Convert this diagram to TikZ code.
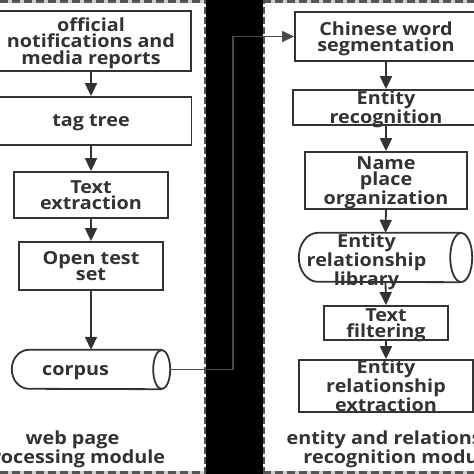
\documentclass[tikz,border=0pt]{standalone}
\usepackage{fontspec}
\setmainfont{Open Sans}[FakeStretch=1.1]
\usetikzlibrary{arrows.meta}
\definecolor{ink}{HTML}{333333}
\definecolor{dashc}{HTML}{555555}
\definecolor{gapc}{HTML}{CFCFCF}
\definecolor{linkc}{HTML}{4A4A4A}
\tikzset{
  lblfont/.style={font=\fontsize{18}{16.5}\selectfont\bfseries, text=ink},
  stepbox/.style={draw=ink, line width=1.8pt, fill=white, inner sep=0pt, align=center, text depth=-4pt, lblfont},
  cylbody/.style={inner sep=0pt},
  cylline/.style={draw=ink, line width=1.8pt},
  txt/.style={inner sep=0pt, align=center, text depth=0pt, lblfont},
  flow/.style={draw=ink, line width=1.8pt, -{Triangle[length=13pt,width=12pt]}},
  link/.style={draw=linkc, line width=1.4pt, -{Triangle[length=12pt,width=11pt]}},
  borderbase/.style={draw=gapc, line width=2.5pt},
  borderdash/.style={draw=dashc, line width=2.5pt, dash pattern=on 8pt off 4pt},
}
\begin{document}
\begin{tikzpicture}[x=1pt,y=1pt]
\useasboundingbox (0,0) rectangle (474,474);
\clip (0,0) rectangle (474,474);
% panel borders
\foreach \y in {1.5,472.5}{
  \draw[borderbase] (0,\y) -- (206,\y);
  \draw[borderdash] (0,\y) -- (206,\y);
  \draw[borderbase] (263,\y) -- (474,\y);
  \draw[borderdash] (263,\y) -- (474,\y);
}
\draw[draw=dashc, line width=1.8pt, dash pattern=on 7pt off 3pt] (205,0) -- (205,474);
\draw[draw=dashc, line width=1.8pt, dash pattern=on 7pt off 3pt] (264,0) -- (264,474);
\fill[black] (206,0) rectangle (263,474);

% left module
\node[stepbox, minimum width=200pt, minimum height=60pt] (n1) at (91,433) {official\\notifications and\\media reports};
\node[stepbox, minimum width=201pt, minimum height=48pt] (n2) at (91,353) {tag tree};
\node[stepbox, minimum width=154pt, minimum height=46pt] (n3) at (91,279) {Text\\extraction};
\node[stepbox, minimum width=144pt, minimum height=48pt] (n4) at (91,208) {Open test\\set};
\node[cylbody, minimum width=158pt, minimum height=39pt] (c) at (91,104.5) {};
\draw[cylline] ([xshift=-8.5pt]c.north east) -- ([xshift=17pt]c.north west)
  arc[start angle=90, end angle=270, x radius=17pt, y radius=19.5pt]
  -- ([xshift=-8.5pt]c.south east);
\draw[cylline] ([xshift=-8.5pt]c.east) ellipse [x radius=8.5pt, y radius=19.5pt];
\node[txt] (ctext) at (75.5,103.5) {corpus};
\node[txt] (lab1) at (72.5,27) {web page\\processing module};

\draw[flow] (n1) -- (n2);
\draw[flow] (n2) -- (n3);
\draw[flow] (n3) -- (n4);
\draw[flow] (n4.south) -- (c.north);

% right module
\node[stepbox, minimum width=182pt, minimum height=49pt] (r1) at (386,437.5) {Chinese word\\segmentation};
\node[stepbox, minimum width=186pt, minimum height=35pt] (r2) at (386,366.5) {Entity\\recognition};
\node[stepbox, minimum width=162pt, minimum height=57pt] (r3) at (386,293.5) {Name\\place\\organization};
\node[cylbody, minimum width=173pt, minimum height=49pt] (r4) at (385.5,216.5) {};
\draw[cylline] ([xshift=-11pt]r4.north east) -- ([xshift=19pt]r4.north west)
  arc[start angle=90, end angle=270, x radius=19pt, y radius=24.5pt]
  -- ([xshift=-11pt]r4.south east);
\draw[cylline] ([xshift=-11pt]r4.east) ellipse [x radius=11pt, y radius=24.5pt];
\node[txt] (r4text) at (366.5,214.5) {Entity\\relationship\\library};
\node[stepbox, minimum width=124pt, minimum height=34pt] (r5) at (386,151) {Text\\filtering};
\node[stepbox, minimum width=174pt, minimum height=52pt] (r6) at (386,88) {Entity\\relationship\\extraction};
\node[txt] (lab2) at (400,27) {entity and relationship\\recognition module};

\draw[flow] (r1) -- (r2);
\draw[flow] (r2) -- (r3);
\draw[flow] (r3.south) -- (r4.north);
\draw[flow] (r4.south) -- (r5.north);
\draw[flow] (r5) -- (r6);

% link between modules
\coordinate (bend) at (233,250);
\draw[link] (c.east) -- (c.east -| bend) |- (r1.west);
\end{tikzpicture}
\end{document}
